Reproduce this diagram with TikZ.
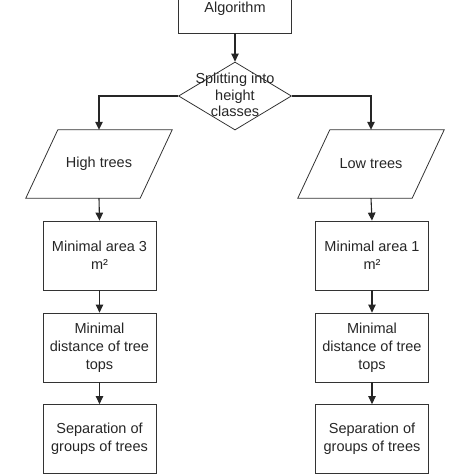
\documentclass[tikz,border=0pt]{standalone}
\usepackage{fontspec}
\setmainfont{Liberation Sans}
\usetikzlibrary{arrows.meta,shapes.geometric}

\begin{document}
\begin{tikzpicture}[
    x=1pt, y=-1pt,
    >={Triangle[length=8pt,width=7.5pt]},
    flow/.style={draw=black!85, line width=1.1pt, ->},
    outline/.style={draw=black!80, line width=0.8pt},
    procbox/.style={rectangle, outline, minimum width=113pt, minimum height=69pt, inner sep=1pt, align=center, font=\fontsize{14.5}{17.8}\selectfont, text=black!85},
    dec/.style={diamond, outline, minimum width=113pt, minimum height=68pt, inner sep=0pt},
    io/.style={rectangle, minimum width=114pt, minimum height=68pt, inner sep=0pt, font=\fontsize{14.5}{17.8}\selectfont, text=black!85},
    tag/.style={align=center, font=\fontsize{14.5}{16.5}\selectfont, text=black!85},
  ]
  \path[use as bounding box, clip] (0,0) rectangle (474,474);

  %% ---------------- top: algorithm and split ----------------
  \node[procbox, minimum height=48pt] (alg) at (235,9) {Algorithm};
  \node[dec] (split) at (235,96) {};
  \node[tag] (splittxt) at (235,95) {Splitting into\\height\\classes};
  \draw[flow] (alg.south) -- (split.north);

  %% ---------------- two branches ----------------
  \node[io] (high) at (99,164) {High trees};
  \node[io] (low) at (371,164) {Low trees};
  \foreach \n in {high,low} {
    \draw[outline] ([xshift=16pt]\n.north west) -- ([xshift=16pt]\n.north east)
      -- ([xshift=-16pt]\n.south east) -- ([xshift=-16pt]\n.south west) -- cycle;
  }
  \draw[flow] (split.west) -| (high.north);
  \draw[flow] (split.east) -| (low.north);

  %% ---------------- left column ----------------
  \node[procbox] (harea) at (99.5,255.5) {Minimal area 3\\m²};
  \node[procbox] (hdist) at (99.5,347.5) {Minimal\\distance of tree\\tops};
  \node[procbox] (hsep) at (99.5,439) {Separation of\\groups of trees};
  \draw[flow] (high.south) -- (harea.north);
  \draw[flow] (harea.south) -- (hdist.north);
  \draw[flow] (hdist.south) -- (hsep.north);

  %% ---------------- right column ----------------
  \node[procbox] (larea) at (372,255.5) {Minimal area 1\\m²};
  \node[procbox] (ldist) at (372,347.5) {Minimal\\distance of tree\\tops};
  \node[procbox] (lsep) at (372,439) {Separation of\\groups of trees};
  \draw[flow] (low.south) -- (larea.north);
  \draw[flow] (larea.south) -- (ldist.north);
  \draw[flow] (ldist.south) -- (lsep.north);

\end{tikzpicture}
\end{document}
